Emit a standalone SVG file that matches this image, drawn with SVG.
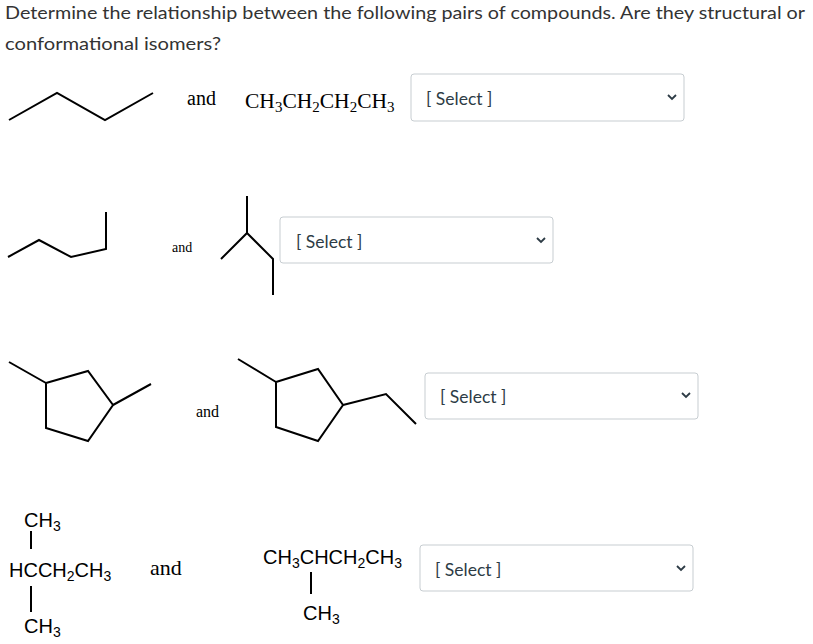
<svg xmlns="http://www.w3.org/2000/svg" width="813" height="644" viewBox="0 0 813 644">
<style>
.h{font-family:Lato,"Open Sans",sans-serif;font-size:18px;fill:#333}
.b{fill:none;stroke:#000;stroke-width:2;stroke-linejoin:miter}
.s{font-family:"Liberation Serif",serif;fill:#000}
.f{font-family:"Liberation Sans",Arial,sans-serif;font-size:20px;fill:#000}
.sel rect{fill:#fff;stroke:#c7cdd1;stroke-width:1}
.sel text{font-family:Lato,"Open Sans",sans-serif;font-size:17.5px;fill:#2d3b45}
.sel path{fill:none;stroke:#2d3b45;stroke-width:1.8}
</style>
<rect width="813" height="644" fill="#fff"/>
<text class="h" x="5" y="19" textLength="800" lengthAdjust="spacingAndGlyphs">Determine the relationship between the following pairs of compounds. Are they structural or</text>
<text class="h" x="5" y="50" textLength="216" lengthAdjust="spacingAndGlyphs">conformational isomers?</text>
<g id="row1">
<polyline class="b" points="9,120 57,93 105,120 153,93"/>
<text class="s" x="187" y="105" font-size="20">and</text>
<text class="s" x="245" y="108" font-size="21.5">CH<tspan font-size="15" dy="4">3</tspan><tspan dy="-4">CH</tspan><tspan font-size="15" dy="4">2</tspan><tspan dy="-4">CH</tspan><tspan font-size="15" dy="4">2</tspan><tspan dy="-4">CH</tspan><tspan font-size="15" dy="4">3</tspan></text>
<g class="sel"><rect x="411" y="74" width="273" height="47" rx="3"/><text x="426" y="105">[ Select ]</text><path d="M668,95 l4,4 l4,-4"/></g>
</g>
<g id="row2">
<polyline class="b" points="8,257 39,240 71,257 106,249 106,212"/>
<text class="s" x="172" y="252" font-size="14">and</text>
<path class="b" d="M247,196 V233 L221,259 M247,233 L273,259 V295"/>
<g class="sel"><rect x="280" y="217" width="273" height="46" rx="3"/><text x="296" y="248">[ Select ]</text><path d="M537,238 l4,4 l4,-4"/></g>
</g>
<g id="row3">
<path class="b" d="M9,362 L46,383 M113,405 L151,384"/>
<polygon class="b" points="46,383 88,371 113,405 88,441 46,428"/>
<text class="s" x="196" y="417" font-size="16">and</text>
<path class="b" d="M238,359 L276,382 M343,405 L386,394 L416,424"/>
<polygon class="b" points="276,382 318,369 343,405 318,441 276,427"/>
<g class="sel"><rect x="425" y="373" width="273" height="46" rx="3"/><text x="440" y="403">[ Select ]</text><path d="M682,393 l4,4 l4,-4"/></g>
</g>
<g id="row4">
<text class="f" x="24" y="527">CH<tspan font-size="14" dy="4">3</tspan></text>
<path class="b" d="M31,531 V549 M31,586 V612"/>
<text class="f" x="9" y="577">HCCH<tspan font-size="14" dy="4">2</tspan><tspan dy="-4">CH</tspan><tspan font-size="14" dy="4">3</tspan></text>
<text class="f" x="24" y="633">CH<tspan font-size="14" dy="4">3</tspan></text>
<text class="s" x="150" y="575" font-size="22">and</text>
<text class="f" x="263" y="564">CH<tspan font-size="14" dy="4">3</tspan><tspan dy="-4">CHCH</tspan><tspan font-size="14" dy="4">2</tspan><tspan dy="-4">CH</tspan><tspan font-size="14" dy="4">3</tspan></text>
<path class="b" d="M311,572 V594"/>
<text class="f" x="303" y="620">CH<tspan font-size="14" dy="4">3</tspan></text>
<g class="sel"><rect x="420" y="545" width="273" height="46" rx="3"/><text x="435" y="576">[ Select ]</text><path d="M677,566 l4,4 l4,-4"/></g>
</g>
</svg>
